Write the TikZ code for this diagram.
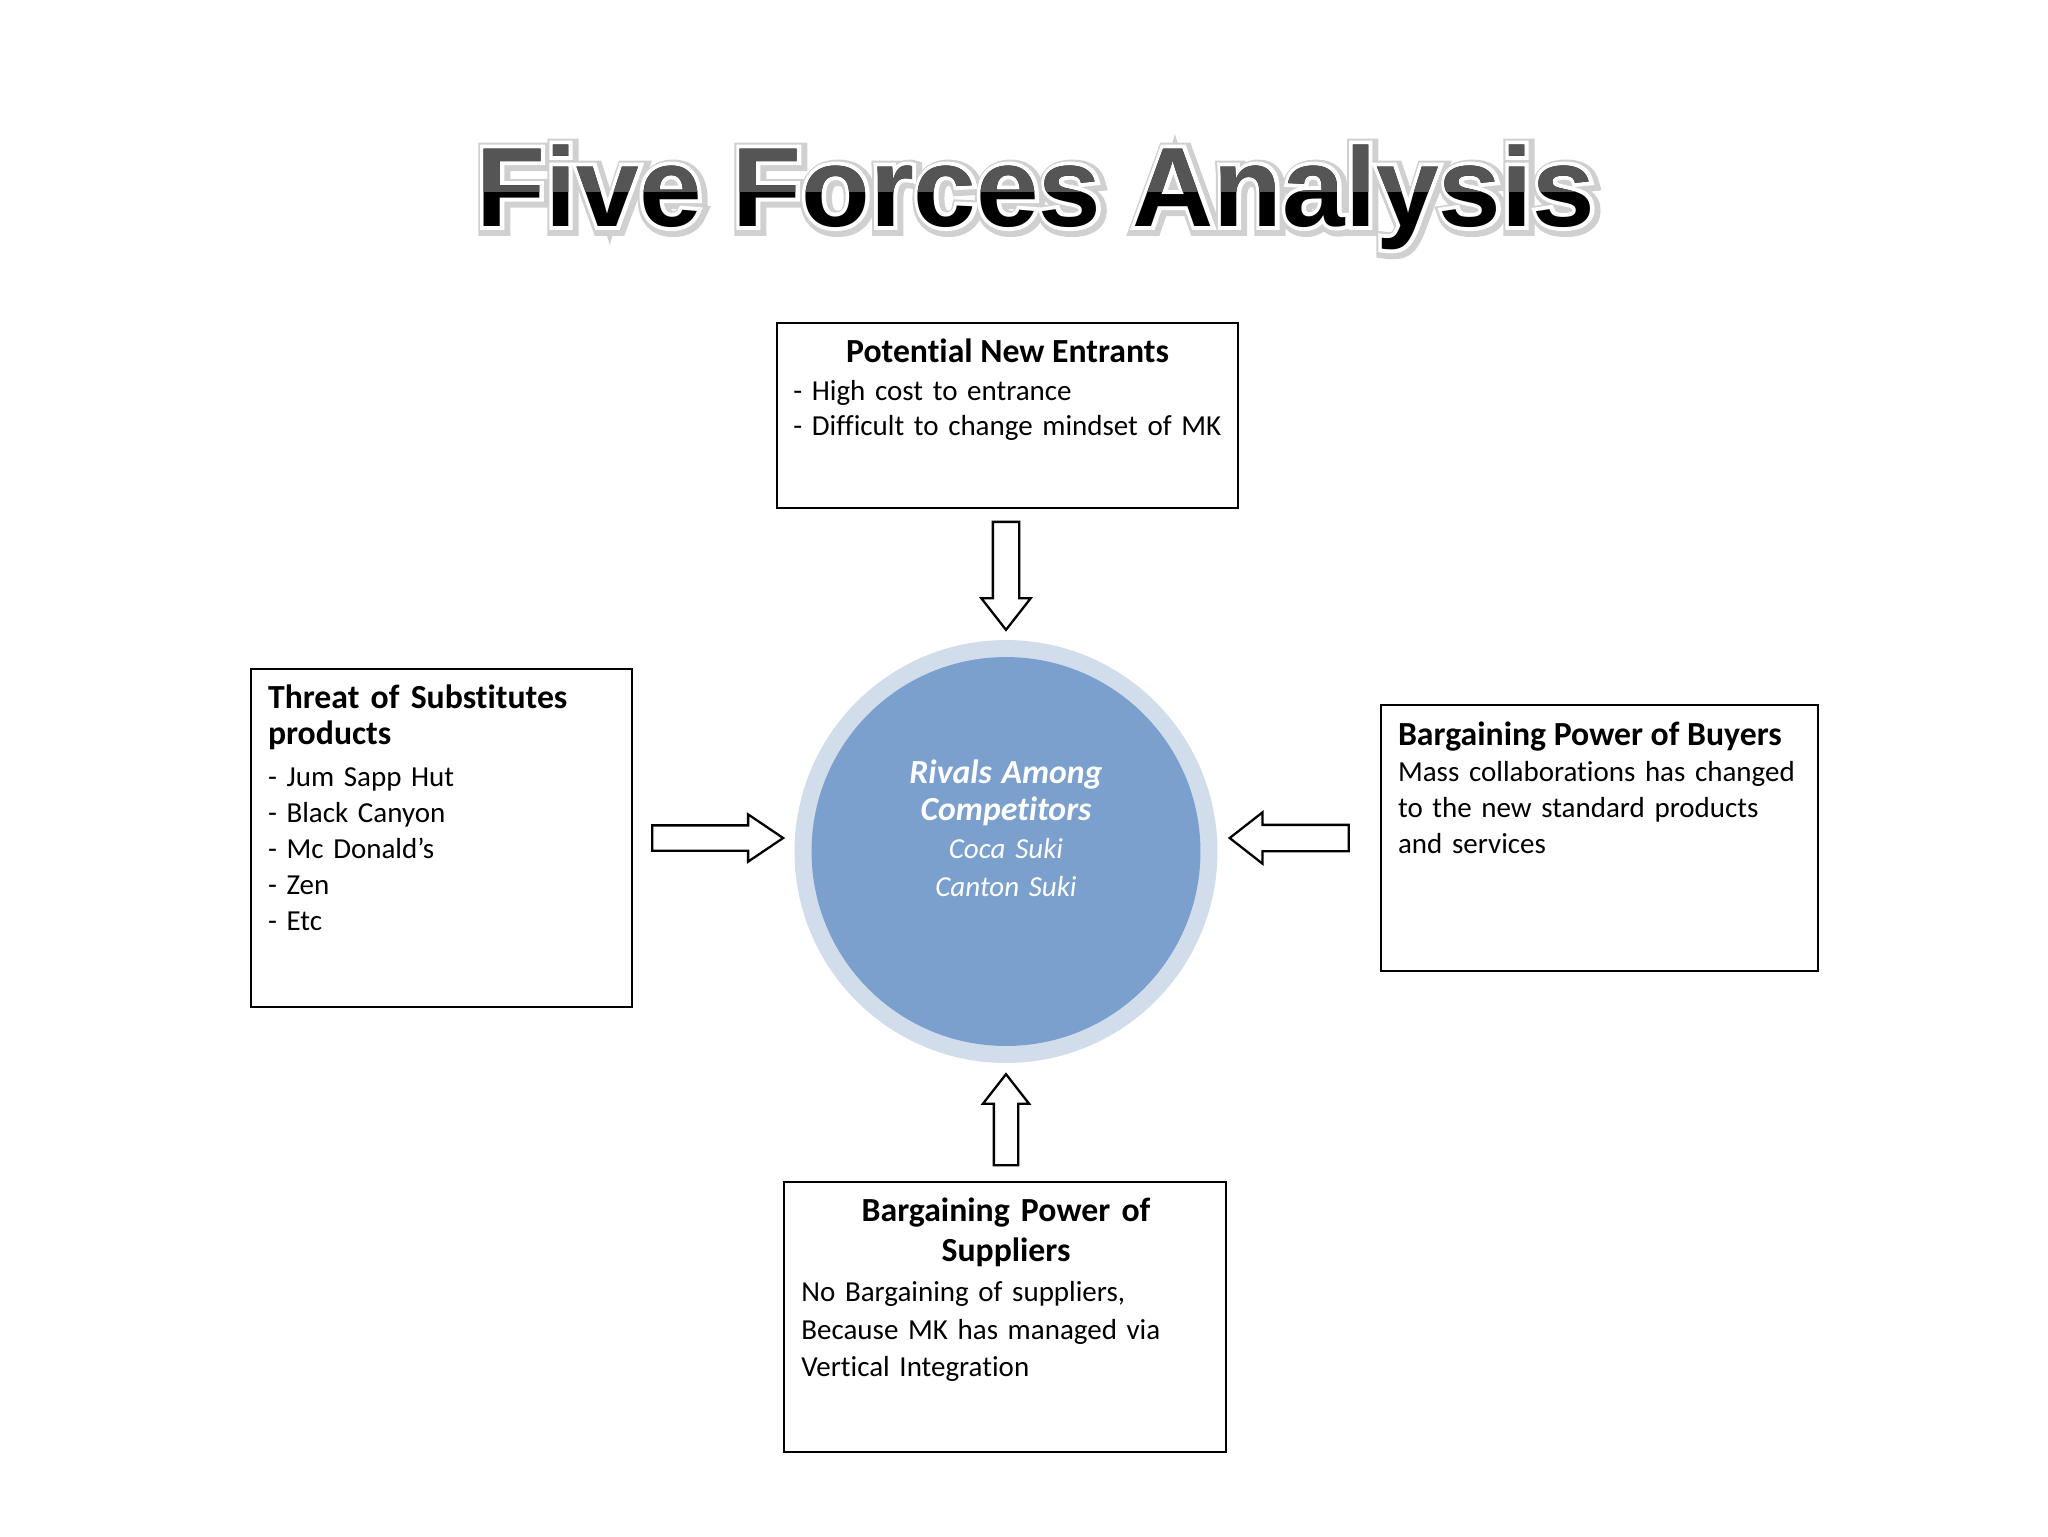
\documentclass[tikz,border=0pt]{standalone}
\usepackage{fontspec}
\setmainfont{Carlito}[Ligatures={NoCommon,NoContextual}, Contextuals=NoAlternate]
\newfontfamily\titlefont{Liberation Sans Bold}
\newfontfamily\titlerim{Liberation Sans Bold}[FakeBold=7]
\newfontfamily\titleglowfont{Liberation Sans Bold}[FakeBold=14]
\usetikzlibrary{shapes.geometric, shapes.arrows, calc, positioning}
\definecolor{ringblue}{HTML}{D2DDEC}
\definecolor{coreblue}{HTML}{7BA0CE}
\definecolor{titlegray}{HTML}{555555}
\definecolor{titleglow}{HTML}{D0D0D0}

\newcommand{\fivetitle}{Five Forces Analysis}

\begin{document}
\begin{tikzpicture}[
    x=0.02cm, y=-0.02cm,
    frame/.style={rectangle, draw=black, line width=1.5pt, inner sep=0pt},
    head/.style={font=\fontsize{19.2pt}{22pt}\selectfont\bfseries, inner sep=0pt},
    body/.style={font=\fontsize{16.5pt}{20.4pt}\selectfont, inner sep=0pt, align=left},
    titletxt/.style={inner sep=0pt, anchor=base},
    blockarr/.style={single arrow, draw=black, line width=1.3pt, fill=white, inner xsep=0pt, single arrow tip angle=76, single arrow head indent=0pt, anchor=tip}
]
\path[fill=white, use as bounding box] (0,0) rectangle (2048,1536);

% title
\node[titletxt, text=titleglow, font=\titleglowfont\fontsize{64pt}{70pt}\selectfont] (titleGlow) at (1038,228) {\fivetitle};
\node[titletxt, text=white, font=\titlerim\fontsize{64pt}{70pt}\selectfont] (titleRim) at (1036,226) {\fivetitle};
\node[titletxt, text=black, font=\titlefont\fontsize{64pt}{70pt}\selectfont] (title) at (1036,226) {\fivetitle};
\begin{scope}
  \clip (0,0) rectangle (2048,191);
  \node[titletxt, text=titlegray, font=\titlefont\fontsize{64pt}{70pt}\selectfont] (titleTop) at (1036,226) {\fivetitle};
\end{scope}

% boxes
\node[frame, minimum width=9.22cm, minimum height=3.70cm] (entrants) at (1007.5,415.5) {};
\node[frame, minimum width=7.62cm, minimum height=6.76cm] (substitutes) at (441.5,838) {};
\node[frame, minimum width=8.74cm, minimum height=5.32cm] (buyers) at (1599.5,838) {};
\node[frame, minimum width=8.84cm, minimum height=5.40cm] (suppliers) at (1005,1317) {};

\node[head, anchor=base] (entHead) at (1007.5,362.7) {Potential New Entrants};
\node[body, anchor=base west, text width=9cm] (entBody) at (793,400)
  {- High cost to entrance\\- Difficult to change mindset of MK};

\node[head, anchor=base west, align=left, text width=7cm, font=\fontsize{19.2pt}{21pt}\selectfont\bfseries] (subHead) at (267.7,708)
  {Threat of Substitutes\\products};
\node[body, anchor=base west, text width=7cm] (subBody) at (267.7,786.7)
  {- Jum Sapp Hut\\- Black Canyon\\- Mc Donald’s\\- Zen\\- Etc};

\node[head, anchor=base west] (buyHead) at (1397.7,745) {Bargaining Power of Buyers};
\node[body, anchor=base west, text width=8.4cm] (buyBody) at (1397.7,781.7)
  {Mass collaborations has changed\\to the new standard products\\and services};

\node[head, anchor=base, align=center, text width=8cm, font=\fontsize{19.2pt}{22.7pt}\selectfont\bfseries] (supHead) at (1006,1221.7)
  {Bargaining Power of\\Suppliers};
\node[body, anchor=base west, text width=8.4cm, font=\fontsize{16.5pt}{21.3pt}\selectfont] (supBody) at (801,1301.7)
  {No Bargaining of suppliers,\\Because MK has managed via\\Vertical Integration};

% centre
\node[circle, fill=ringblue, minimum size=8.46cm, inner sep=0pt] (rivals) at (1006,851.5) {};
\node[circle, fill=coreblue, minimum size=7.78cm, inner sep=0pt] (rivalsCore) at (rivals.center) {};
\node[anchor=base, align=center, text width=6cm, text=white, inner sep=0pt, font=\fontsize{16.5pt}{21.5pt}\selectfont\itshape] (rivText) at (1006,783)
  {{\fontsize{19.2pt}{21.5pt}\selectfont\bfseries Rivals Among}\\{\fontsize{19.2pt}{21.5pt}\selectfont\bfseries Competitors}\\Coca Suki\\Canton Suki};

% forces
\node[blockarr, minimum height=2.16cm, inner ysep=0.24cm, single arrow head extend=0.23cm, rotate=270] (arrEnt) at ($(rivals.north)+(0,-8)$) {};
\node[blockarr, minimum height=2.62cm, inner ysep=0.23cm, single arrow head extend=0.22cm, single arrow tip angle=68] (arrSub) at ($(rivals.west |- substitutes.east)+(-9,0)$) {};
\node[blockarr, minimum height=2.38cm, inner ysep=0.24cm, single arrow head extend=0.25cm, rotate=180] (arrBuy) at ($(rivals.east |- buyers.west)+(10,0)$) {};
\node[blockarr, minimum height=1.82cm, inner ysep=0.22cm, single arrow head extend=0.22cm, rotate=90] (arrSup) at ($(rivals.south)+(0,9)$) {};
\end{tikzpicture}
\end{document}
